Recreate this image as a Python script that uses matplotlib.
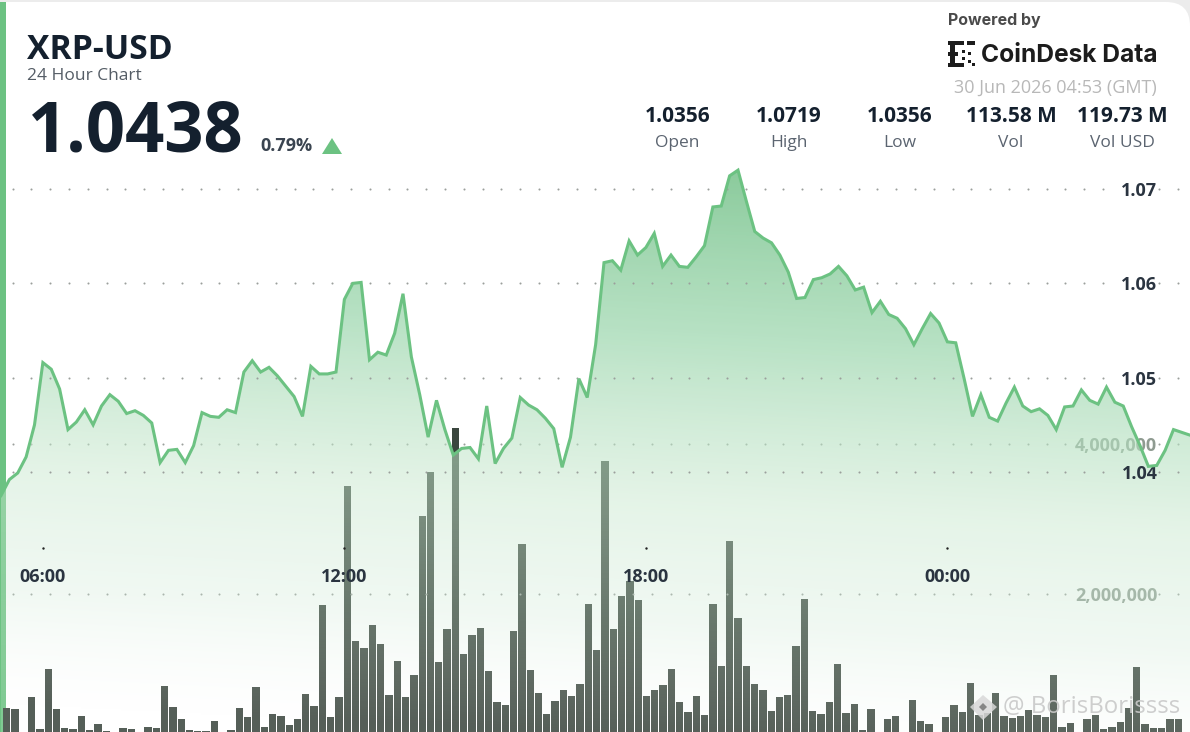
import numpy as np
import matplotlib
matplotlib.use("Agg")
import matplotlib.pyplot as plt
from matplotlib.patches import FancyBboxPatch, Rectangle, Polygon
from matplotlib.transforms import Affine2D, blended_transform_factory

W, H = 1190, 732

# XRP price, one point every 10 min
price = [1.0375, 1.0392, 1.0399, 1.0416, 1.0450, 1.0516, 1.0509, 1.0488, 1.0445, 1.0453,
         1.0466, 1.0450, 1.0470, 1.0482, 1.0475, 1.0462, 1.0465, 1.0460, 1.0452, 1.0410,
         1.0423, 1.0424, 1.0410, 1.0428, 1.0463, 1.0459, 1.0458, 1.0466, 1.0463, 1.0506,
         1.0518, 1.0506, 1.0511, 1.0502, 1.0491, 1.0480, 1.0459, 1.0512, 1.0504, 1.0504,
         1.0506, 1.0583, 1.0600, 1.0601, 1.0519, 1.0527, 1.0524, 1.0547, 1.0589, 1.0522,
         1.0482, 1.0437, 1.0476, 1.0445, 1.0418, 1.0425, 1.0426, 1.0414, 1.0470, 1.0409,
         1.0425, 1.0436, 1.0479, 1.0471, 1.0466, 1.0457, 1.0446, 1.0405, 1.0437, 1.0499,
         1.0479, 1.0535, 1.0622, 1.0624, 1.0614, 1.0645, 1.0630, 1.0638, 1.0653, 1.0618,
         1.0630, 1.0618, 1.0617, 1.0628, 1.0640, 1.0681, 1.0682, 1.0714, 1.0720, 1.0687,
         1.0655, 1.0648, 1.0643, 1.0630, 1.0612, 1.0584, 1.0585, 1.0604, 1.0606, 1.0610,
         1.0618, 1.0608, 1.0593, 1.0596, 1.0569, 1.0581, 1.0567, 1.0563, 1.0552, 1.0535,
         1.0552, 1.0568, 1.0558, 1.0538, 1.0537, 1.0499, 1.0459, 1.0482, 1.0458, 1.0454,
         1.0473, 1.0490, 1.0470, 1.0464, 1.0467, 1.0460, 1.0445, 1.0469, 1.0470, 1.0487,
         1.0476, 1.0472, 1.0490, 1.0474, 1.0470, 1.0448, 1.0428, 1.0406, 1.0407, 1.0423,
         1.0445, 1.0442, 1.0439]

# volume in thousands
volume = [476, 462, 120, 631, 196, 1000, 462, 213, 204, 373, 187, 262, 178, 120, 209, 196,
          120, 227, 218, 773, 498, 333, 187, 173, 178, 307, 120, 187, 476, 364, 760, 231,
          400, 378, 253, 333, 662, 507, 1858, 364, 631, 3440, 1369, 1285, 1591, 1329, 649, 1111,
          631, 920, 3040, 3627, 1093, 1529, 4213, 1196, 1449, 1551, 973, 560, 516, 1511, 2671, 982,
          684, 404, 573, 720, 636, 804, 1871, 1253, 3777, 1529, 1969, 2169, 1916, 640, 720, 787,
          1000, 564, 427, 640, 382, 1867, 1040, 2707, 1680, 1044, 804, 724, 444, 631, 658, 1311,
          1929, 440, 400, 556, 1062, 409, 529, 187, 471, 120, 333, 373, 120, 587, 311, 267,
          120, 356, 516, 431, 809, 391, 409, 676, 378, 342, 378, 453, 391, 356, 924, 227,
          276, 120, 333, 391, 196, 227, 289, 476, 1022, 262, 209, 218, 333, 329]

price_ticks = [1.04, 1.05, 1.06, 1.07]
volume_ticks = [2000000, 4000000]
time_labels = ["06:00", "12:00", "18:00", "00:00"]
time_index = [5, 41, 77, 113]

stat_values = ["1.0356", "1.0719", "1.0356", "113.58 M", "119.73 M"]
stat_names = ["Open", "High", "Low", "Vol", "Vol USD"]

FONT = "Open Sans"
GREEN = "#6cc282"
DARK = "#14202e"
plt.rcParams["font.family"] = [FONT, "DejaVu Sans"]


def fx(x):
    return x / W


def fy(y):
    return 1 - y / H


def label(x, y, s, **kw):
    fig.text(fx(x), fy(y), s, va="center", zorder=6, **kw)


fig = plt.figure(figsize=(W / 100, H / 100), dpi=100, facecolor="#ececec")

# white card, only its top right corner shows, green edge on the left
pix = Affine2D().scale(1, -1).translate(0, H)
fig.add_artist(FancyBboxPatch((-60, 2), W + 60, H + 60, boxstyle="round,pad=0,rounding_size=24",
                              transform=pix, fc="white", ec="none", zorder=-3))
fig.add_artist(Rectangle((0, 2), 6, H, transform=pix, fc=GREEN, ec="none", zorder=-2))

# volume axes are under the price axes, both fill the figure
ax_vol = fig.add_axes([0, 0, 1, 1], facecolor="none", zorder=1)
ax_price = fig.add_axes([0, 0, 1, 1], facecolor="none", zorder=2)

vol = np.array(volume) * 1000
ax_vol.bar(np.arange(len(vol)), vol, width=0.88, color="#3b463e", linewidth=0)
ax_vol.set_xlim(-0.803, 142.4)
ax_vol.set_ylim(160000, 9920000)
ax_vol.set_xticks([])
ax_vol.set_yticks(volume_ticks)
ax_vol.set_yticklabels(["2,000,000", "4,000,000"], fontsize=13, fontweight="bold", color="#8f9b91")
ax_vol.tick_params(axis="y", left=False, right=False, labelleft=False, labelright=True, pad=-27)
for t in ax_vol.get_yticklabels():
    t.set_ha("right")

x = np.arange(len(price))

# gradient area below the price line, it also washes out the bars
rows, cols = np.mgrid[0:H // 2, 0:W // 2]
y_eff = rows * 2 + 0.05 * (600 - cols * 2)
stops = [170, 330, 500, 620, 732]
rgba = np.dstack([np.interp(y_eff, stops, [0.53, 0.627, 0.786, 0.817, 1.0]),
                  np.interp(y_eff, stops, [0.79, 0.848, 0.91, 0.92, 1.0]),
                  np.interp(y_eff, stops, [0.60, 0.693, 0.81, 0.843, 1.0]),
                  np.interp(y_eff, stops, [0.95, 0.75, 0.48, 0.30, 0.14])])
area = ax_price.fill_between(x, price, 1.01244, facecolor="none", linewidth=0)
img = ax_price.imshow(rgba, extent=[0, 1, 0, 1], transform=ax_price.transAxes, aspect="auto",
                      origin="upper", interpolation="bilinear", zorder=1)
img.set_clip_path(area.get_paths()[0], transform=ax_price.transData)
ax_price.set_xlim(-0.119, 141.97)
ax_price.set_ylim(1.01244, 1.09004)

ax_price.plot(x, price, color=GREEN, lw=2.2, solid_joinstyle="miter", zorder=3)

# dotted levels, gap behind the axis labels
dots = 12.6 + 18.8 * np.arange(63)
tr = blended_transform_factory(ax_price.transAxes, ax_price.transData)
for p in price_ticks:
    d = dots[(dots < 1110) | (dots > 1158)]
    ax_price.scatter(d / W, [p] * len(d), s=2.2, color="#9b9f9c", linewidths=0, transform=tr, zorder=2)
tr_v = blended_transform_factory(ax_vol.transAxes, ax_vol.transData)
for v in volume_ticks:
    d = dots[(dots < 1070) | (dots > 1158)]
    ax_vol.scatter(d / W, [v] * len(d), s=2.2, color="#9b9f9c", linewidths=0, transform=tr_v, zorder=3)

ax_price.set_xticks([])
ax_price.set_yticks(price_ticks)
ax_price.set_yticklabels(["1.04", "1.05", "1.06", "1.07"], fontsize=13, fontweight="bold", color="#2a3440")
ax_price.tick_params(axis="y", left=False, right=False, labelleft=False, labelright=True, pad=-27)
for t in ax_price.get_yticklabels():
    t.set_ha("right")

for ax in (ax_vol, ax_price):
    for s in ax.spines.values():
        s.set_visible(False)

# time axis sits in the middle of the chart
tr_x = blended_transform_factory(ax_price.transData, ax_price.transAxes)
for i, s in zip(time_index, time_labels):
    ax_price.text(i, fy(577), s, transform=tr_x, ha="center", va="center", fontsize=13,
                  fontweight="bold", color="#2a3440", zorder=5)
    ax_price.scatter([i], [fy(548)], s=3, color="#222222", linewidths=0, transform=tr_x, zorder=5)

# header
label(27, 50, "XRP-USD", fontsize=24.3, fontweight="bold", color=DARK)
label(27, 76, "24 Hour Chart", fontsize=12.5, color="#555d66")
label(28, 134, "1.0438", fontsize=49.5, fontweight="bold", color=DARK)
label(260, 146, "0.79%", fontsize=13, fontweight="bold", color="#3a4450")
fig.add_artist(Polygon([(322, 154), (342, 154), (332, 138)], closed=True, transform=pix,
                       fc=GREEN, ec="none", zorder=6))

for cx, a, b in zip([677.5, 789, 900, 1011, 1122], stat_values, stat_names):
    label(cx, 117, a, fontsize=15, fontweight="bold", color=DARK, ha="center")
    label(cx, 143, b, fontsize=12.5, color="#5b6470", ha="center")

label(948, 20, "Powered by", fontsize=11.5, fontweight="bold", color="#4a4a4a",
      family=["Inter", "DejaVu Sans"])
label(981, 55, "CoinDesk Data", fontsize=17.7, fontweight="bold", color="#1c1c1c",
      family=["Inter", "DejaVu Sans"])
label(1157, 88, "30 Jun 2026 04:53 (GMT)", fontsize=13, color="#b8b8b8", ha="right")

# CoinDesk mark
for bx, by, bw, bh in [(950, 41, 5, 26), (948, 41, 16, 4), (948, 63, 16, 4), (948, 52, 10, 4),
                       (967, 41, 8, 4), (972, 63, 3, 3), (968, 52, 3, 3), (968, 60, 3, 3),
                       (962, 50, 3, 3), (962, 57, 3, 3)]:
    fig.add_artist(Rectangle((bx, by), bw, bh, transform=pix, fc="#1c1c1c", ec="none", zorder=6))

# watermark
label(1003, 707, "@ BorisBorissss", fontsize=17.3, color="#c9c9c9", alpha=0.9)
fig.add_artist(Polygon([(983, 695), (997, 707), (983, 720), (970, 707)], closed=True, transform=pix,
                       fc="#d8d8d8", ec="none", alpha=0.85, zorder=6))
fig.add_artist(Polygon([(983, 703), (987, 707), (983, 711), (979, 707)], closed=True, transform=pix,
                       fc="#777777", ec="none", alpha=0.85, zorder=6))

fig.savefig("out.png", dpi=100, facecolor=fig.get_facecolor())
